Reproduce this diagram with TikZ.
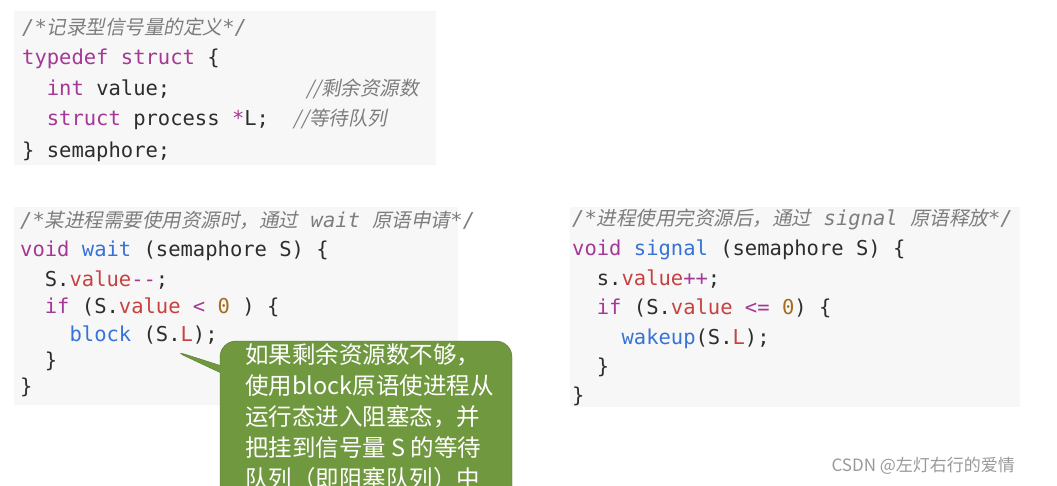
\documentclass[tikz,border=0pt]{standalone}
\usepackage{fontspec}
\setmonofont{DejaVu Sans Mono}
\newfontfamily\cjk{Noto Sans CJK SC}
\newfontfamily\cjkit[FakeSlant=0.2]{Noto Sans CJK SC}
\usetikzlibrary{shapes.callouts}
\definecolor{kw}{RGB}{165,55,150}
\definecolor{fn}{RGB}{55,115,215}
\definecolor{fld}{RGB}{200,65,65}
\definecolor{num}{RGB}{165,110,30}
\definecolor{txt}{RGB}{45,45,45}
\definecolor{cm}{RGB}{125,125,125}
\definecolor{codebg}{RGB}{247,247,247}
\definecolor{tipfill}{RGB}{112,152,62}
\definecolor{tipline}{RGB}{85,120,50}
\newcommand{\kw}[1]{\textcolor{kw}{#1}}
\newcommand{\fn}[1]{\textcolor{fn}{#1}}
\newcommand{\fld}[1]{\textcolor{fld}{#1}}
\newcommand{\nm}[1]{\textcolor{num}{#1}}
\newcommand{\cc}[1]{{\cjkit\fontsize{19.5}{19.5}\selectfont #1}}
\tikzset{
  code/.style={anchor=base west, inner sep=0pt, text=txt, font=\ttfamily\fontsize{20.5}{20.5}\selectfont},
  cmnt/.style={code, text=cm, font=\ttfamily\itshape\fontsize{20.5}{20.5}\selectfont},
  codebox/.style={fill=codebg, draw=none},
}
\begin{document}
\begin{tikzpicture}[x=1pt, y=-1pt]
\useasboundingbox (0,0) rectangle (1057,485);
% background panels
\fill[codebox] (14,11) rectangle (436,165);
\fill[codebox] (14,207) rectangle (458,405);
\fill[codebox] (570,207) rectangle (1020,407);
% record semaphore
\node[cmnt] (d0) at (22,34) {/*\cc{记录型信号量的定义}*/};
\node[code] (d1) at (22,64) {\kw{typedef~struct} \{};
\node[code] (d2) at (22,95) {~~\kw{int}~value;~~~~~~~~~~~\cc{\textcolor{cm}{//剩余资源数}}};
\node[code] (d3) at (22,125) {~~\kw{struct}~process~\kw{*}L;~~\cc{\textcolor{cm}{//等待队列}}};
\node[code] (d4) at (22,157) {\}~semaphore;};
% wait
\node[cmnt] (w0) at (20,227) {/*\cc{某进程需要使用资源时，通过}~wait~\cc{原语申请}*/};
\node[code] (w1) at (20,256) {\kw{void}~\fn{wait}~(semaphore~S)~\{};
\node[code] (w2) at (20,286) {~~S.\fld{value}\kw{-{}-};};
\node[code] (w3) at (20,313) {~~\kw{if}~(S.\fld{value}~\kw{<}~\nm{0}~)~\{};
\node[code] (w4) at (20,341) {~~~~\fn{block}~(S.\fld{L});};
\node[code] (w5) at (20,367) {~~\}};
\node[code] (w6) at (20,393) {\}};
% signal
\node[cmnt] (s0) at (572,225) {/*\cc{进程使用完资源后，通过}~signal~\cc{原语释放}*/};
\node[code] (s1) at (572,255) {\kw{void}~\fn{signal}~(semaphore~S)~\{};
\node[code] (s2) at (572,285) {~~s.\fld{value}\kw{++};};
\node[code] (s3) at (572,314) {~~\kw{if}~(S.\fld{value}~\kw{<=}~\nm{0})~\{};
\node[code] (s4) at (572,344) {~~~~\fn{wakeup}(S.\fld{L});};
\node[code] (s5) at (572,373) {~~\}};
\node[code] (s6) at (572,402) {\}};
% callout
\coordinate (pt) at (172,350);
\node[rectangle callout, rounded corners=16pt, fill=tipfill, draw=tipline,
  minimum width=292pt, minimum height=170pt, callout absolute pointer={(pt)}] (tip) at (366,426) {};
\node[anchor=north west, inner sep=0pt, align=left, text=white,
  font=\cjk\fontsize{23.5}{31}\selectfont] (tiptext) at (245,343)
  {如果剩余资源数不够，\\使用block原语使进程从\\运行态进入阻塞态，并\\把挂到信号量 S 的等待\\队列（即阻塞队列）中};
\node[anchor=west, text=gray!80, font=\cjk\fontsize{17}{17}\selectfont] (mark) at (828,466) {CSDN @左灯右行的爱情};
\end{tikzpicture}
\end{document}
